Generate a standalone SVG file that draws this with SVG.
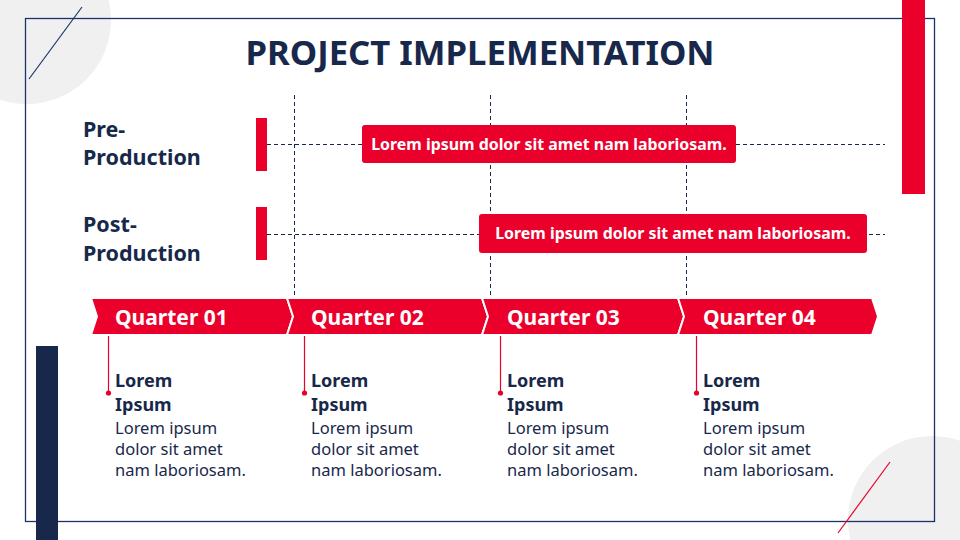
<svg xmlns="http://www.w3.org/2000/svg" width="960" height="540" viewBox="0 0 960 540">
<style>
.navy{fill:#18284a}
.red{fill:#ea002b}
.t{font-family:"Noto Sans","Liberation Sans",sans-serif}
.lbl{font-size:21.5px;font-weight:700;fill:#18284a}
.pill{font-size:15.9px;font-weight:700;fill:#fff;text-anchor:middle}
.q{font-size:21px;font-weight:700;fill:#fff}
.h{font-size:18px;font-weight:700;fill:#18284a}
.b{font-size:16.5px;fill:#18284a}
.dash{stroke:#18284a;stroke-width:1;stroke-dasharray:4 3;fill:none}
.tick{stroke:#ea002b;stroke-width:1.2}
</style>
<rect width="960" height="540" fill="#fff"/>
<!-- decorations -->
<circle cx="27" cy="20" r="84" fill="#f0f0f0"/>
<circle cx="932" cy="520" r="84" fill="#f0f0f0"/>
<rect x="25.5" y="18.5" width="909" height="503" fill="none" stroke="#1b3468" stroke-width="1.3"/>
<line x1="82" y1="7" x2="29" y2="79" stroke="#1b3468" stroke-width="1.2"/>
<line x1="890" y1="462" x2="838" y2="533" stroke="#ea002b" stroke-width="1.2"/>
<rect x="902" y="0" width="23" height="194" class="red"/>
<rect x="36" y="346" width="22" height="194" class="navy"/>
<text x="480" y="65" class="t" text-anchor="middle" font-size="34.7" font-weight="700" fill="#18284a">PROJECT IMPLEMENTATION</text>

<g id="connectors">
  <line x1="294.5" y1="95" x2="294.5" y2="298" class="dash"/>
  <line x1="490.5" y1="95" x2="490.5" y2="298" class="dash"/>
  <line x1="686.5" y1="95" x2="686.5" y2="298" class="dash"/>
  <line x1="267" y1="144.5" x2="885" y2="144.5" class="dash"/>
  <line x1="267" y1="234.5" x2="885" y2="234.5" class="dash"/>
  <line x1="108.5" y1="335" x2="108.5" y2="393" class="tick"/>
  <line x1="304.5" y1="335" x2="304.5" y2="393" class="tick"/>
  <line x1="500.5" y1="335" x2="500.5" y2="393" class="tick"/>
  <line x1="696.5" y1="335" x2="696.5" y2="393" class="tick"/>
  <circle cx="108.5" cy="393" r="2.6" class="red"/>
  <circle cx="304.5" cy="393" r="2.6" class="red"/>
  <circle cx="500.5" cy="393" r="2.6" class="red"/>
  <circle cx="696.5" cy="393" r="2.6" class="red"/>
</g>

<g id="row-pre">
  <text class="t lbl" x="83" y="137">Pre-</text>
  <text class="t lbl" x="83" y="165">Production</text>
  <rect x="256" y="118" width="11" height="53" class="red"/>
</g>
<g id="row-post">
  <text class="t lbl" x="83" y="232">Post-</text>
  <text class="t lbl" x="83" y="261">Production</text>
  <rect x="256" y="207" width="11" height="53" class="red"/>
</g>

<g id="task-pre">
  <rect x="362" y="125" width="374" height="38" rx="3" class="red"/>
  <text class="t pill" x="549" y="149.5">Lorem ipsum dolor sit amet nam laboriosam.</text>
</g>
<g id="task-post">
  <rect x="479" y="214" width="388" height="39" rx="3" class="red"/>
  <text class="t pill" x="673" y="239">Lorem ipsum dolor sit amet nam laboriosam.</text>
</g>

<g id="q1">
  <polygon points="91,298 287,298 293,316.5 287,335 91,335 97,316.5" class="red" stroke="#fff" stroke-width="2"/>
  <text class="t q" x="115" y="325">Quarter 01</text>
</g>
<g id="q2">
  <polygon points="287,298 482,298 488,316.5 482,335 287,335 293,316.5" class="red" stroke="#fff" stroke-width="2"/>
  <text class="t q" x="311" y="325">Quarter 02</text>
</g>
<g id="q3">
  <polygon points="482,298 678,298 684,316.5 678,335 482,335 488,316.5" class="red" stroke="#fff" stroke-width="2"/>
  <text class="t q" x="507" y="325">Quarter 03</text>
</g>
<g id="q4">
  <polygon points="678,298 872,298 878,316.5 872,335 678,335 684,316.5" class="red" stroke="#fff" stroke-width="2"/>
  <text class="t q" x="703" y="325">Quarter 04</text>
</g>

<g id="desc1">
  <text class="t h" x="115" y="387">Lorem</text>
  <text class="t h" x="115" y="411">Ipsum</text>
  <text class="t b" x="115" y="434">Lorem ipsum</text>
  <text class="t b" x="115" y="455">dolor sit amet</text>
  <text class="t b" x="115" y="476">nam laboriosam.</text>
</g>
<g id="desc2">
  <text class="t h" x="311" y="387">Lorem</text>
  <text class="t h" x="311" y="411">Ipsum</text>
  <text class="t b" x="311" y="434">Lorem ipsum</text>
  <text class="t b" x="311" y="455">dolor sit amet</text>
  <text class="t b" x="311" y="476">nam laboriosam.</text>
</g>
<g id="desc3">
  <text class="t h" x="507" y="387">Lorem</text>
  <text class="t h" x="507" y="411">Ipsum</text>
  <text class="t b" x="507" y="434">Lorem ipsum</text>
  <text class="t b" x="507" y="455">dolor sit amet</text>
  <text class="t b" x="507" y="476">nam laboriosam.</text>
</g>
<g id="desc4">
  <text class="t h" x="703" y="387">Lorem</text>
  <text class="t h" x="703" y="411">Ipsum</text>
  <text class="t b" x="703" y="434">Lorem ipsum</text>
  <text class="t b" x="703" y="455">dolor sit amet</text>
  <text class="t b" x="703" y="476">nam laboriosam.</text>
</g>
</svg>
